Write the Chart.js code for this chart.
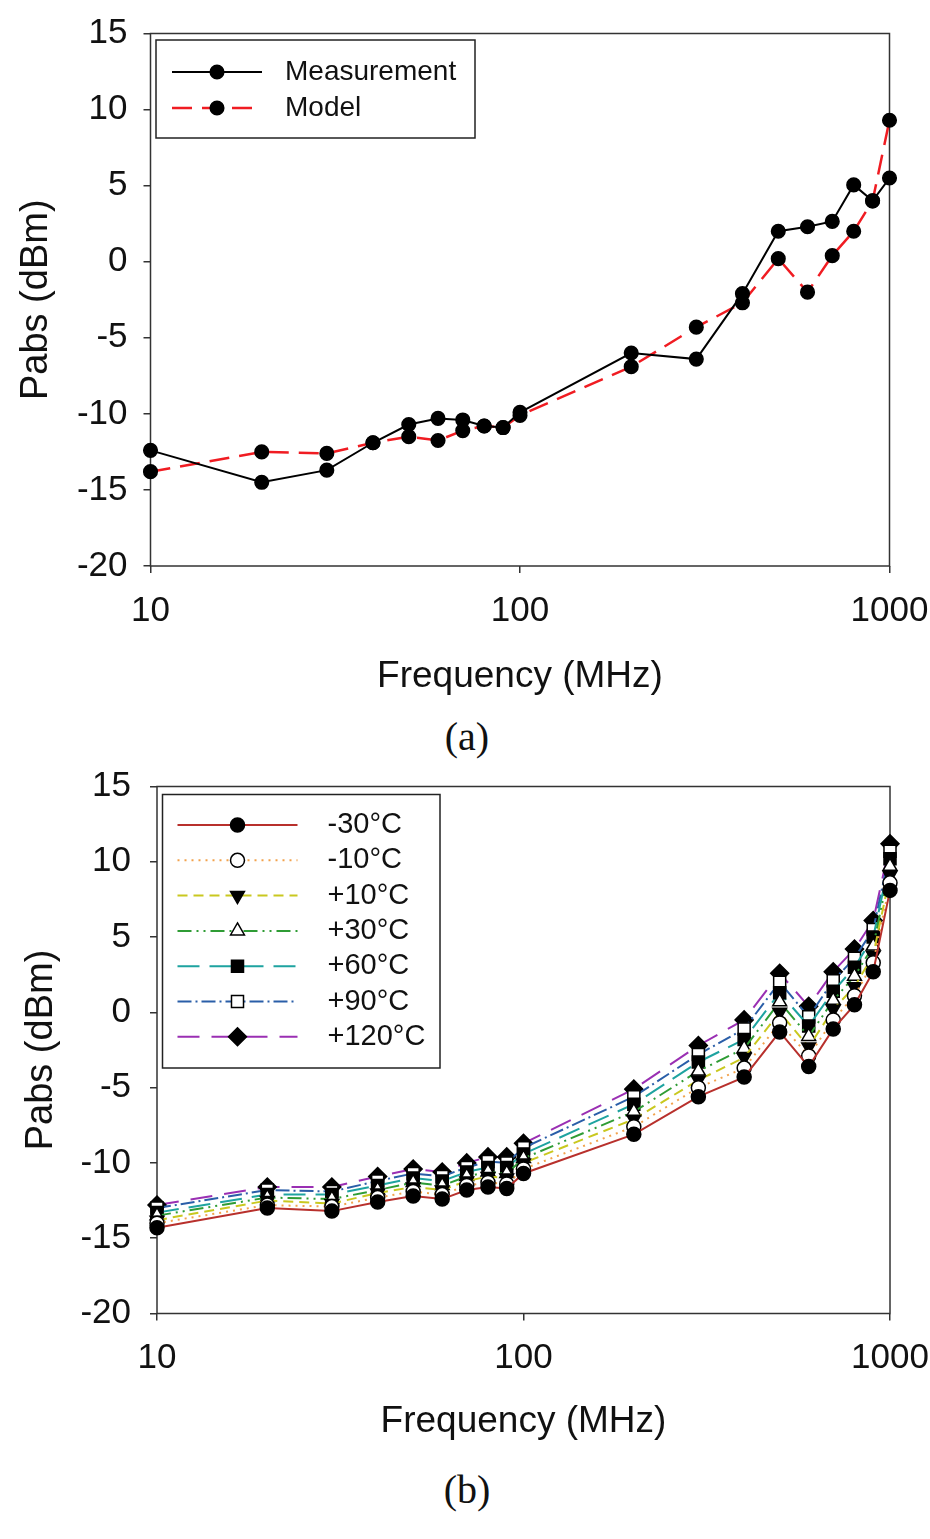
<!DOCTYPE html>
<html>
<head>
<meta charset="utf-8">
<script src="https://cdn.jsdelivr.net/npm/chart.js@4.4.1/dist/chart.umd.min.js"></script>
<style>
  body { margin: 0; background: #fff; width: 930px; height: 1539px; overflow: hidden; position: relative; }
  canvas { position: absolute; left: 0; }
  #chartA { top: 0; }
  #chartB { top: 740px; }
  .cap { position: absolute; left: 367px; width: 200px; text-align: center; font: 40px 'Liberation Serif', 'Times New Roman', serif; line-height: 40px; color: #111; }
</style>
</head>
<body>
<canvas id="chartA" width="930" height="700"></canvas>
<div class="cap" style="top:717px">(a)</div>
<canvas id="chartB" width="930" height="720"></canvas>
<div class="cap" style="top:1470px">(b)</div>
<script>
// frecuencias comunes (MHz)
const freqs = [10, 20, 30, 40, 50, 60, 70, 80, 90, 100, 200, 300, 400, 500, 600, 700, 800, 900, 1000];
const xTicks = [10, 100, 1000];

// figura (a)
const measA = [-12.4, -14.5, -13.7, -11.9, -10.7, -10.3, -10.4, -10.8, -10.9, -9.9, -6.0, -6.4, -2.1, 2.0, 2.3, 2.65, 5.05, 4.0, 5.5];
const modelA = [-13.8, -12.5, -12.6, -11.9, -11.5, -11.75, -11.1, -10.8, -10.9, -10.1, -6.9, -4.3, -2.7, 0.2, -2.0, 0.4, 2.0, 4.0, 9.3];

// figura (b), una lista por temperatura
const tempLabels = ['-30°C', '-10°C', '+10°C', '+30°C', '+60°C', '+90°C', '+120°C'];
const tM30 = [-14.3, -13.0, -13.2, -12.6, -12.2, -12.4, -11.8, -11.6, -11.7, -10.7, -8.1, -5.6, -4.3, -1.3, -3.6, -1.1, 0.5, 2.7, 8.1];
const tM10 = [-14.0, -12.8, -12.9, -12.3, -11.9, -12.1, -11.5, -11.3, -11.4, -10.4, -7.6, -5.0, -3.7, -0.7, -2.9, -0.5, 1.1, 3.3, 8.6];
const tP10 = [-13.8, -12.5, -12.7, -12.0, -11.6, -11.8, -11.2, -10.9, -11.0, -10.0, -7.1, -4.5, -3.0, 0.0, -2.3, 0.2, 1.7, 3.8, 9.1];
const tP30 = [-13.5, -12.3, -12.4, -11.8, -11.3, -11.5, -10.9, -10.6, -10.7, -9.7, -6.6, -3.9, -2.4, 0.7, -1.6, 0.8, 2.4, 4.4, 9.7];
const tP60 = [-13.3, -12.1, -12.1, -11.5, -11.0, -11.2, -10.6, -10.3, -10.3, -9.4, -6.1, -3.3, -1.8, 1.3, -0.9, 1.4, 3.0, 5.0, 10.2];
const tP90 = [-13.0, -11.8, -11.9, -11.2, -10.7, -10.9, -10.3, -9.9, -10.0, -9.0, -5.6, -2.8, -1.1, 2.0, -0.3, 2.1, 3.6, 5.5, 10.7];
const tP120 = [-12.8, -11.6, -11.6, -10.9, -10.4, -10.6, -10.0, -9.6, -9.6, -8.7, -5.1, -2.2, -0.5, 2.6, 0.4, 2.7, 4.2, 6.1, 11.2];

const SANS = "'Liberation Sans', Arial, sans-serif";
const INK = '#111';

function puntos(vals) {
    return freqs.map((f, i) => ({ x: f, y: vals[i] }));
}

// marco completo alrededor del area del grafico
const marco = {
    id: 'marco',
    beforeDatasetsDraw(chart) {
        const a = chart.chartArea;
        const ctx = chart.ctx;
        ctx.save();
        ctx.strokeStyle = '#333';
        ctx.lineWidth = 1.5;
        ctx.strokeRect(a.left, a.top, a.right - a.left, a.bottom - a.top);
        ctx.restore();
    }
};

// leyenda con caja, muestra de linea y marcador
const leyenda = {
    id: 'leyenda',
    afterDatasetsDraw(chart, args, o) {
        const ctx = chart.ctx;
        ctx.save();
        ctx.fillStyle = '#fff';
        ctx.fillRect(o.x, o.y, o.w, o.h);
        ctx.strokeStyle = '#222';
        ctx.lineWidth = 1.5;
        ctx.strokeRect(o.x, o.y, o.w, o.h);
        ctx.font = o.font;
        ctx.textBaseline = 'middle';
        chart.data.datasets.forEach((ds, i) => {
            const y = o.firstY + i * o.rowH;
            ctx.setLineDash(ds.borderDash || []);
            ctx.strokeStyle = ds.borderColor;
            ctx.lineWidth = ds.borderWidth;
            ctx.beginPath();
            ctx.moveTo(o.lineX0, y);
            ctx.lineTo(o.lineX1, y);
            ctx.stroke();
            ctx.setLineDash([]);
            ctx.fillStyle = ds.pointBackgroundColor;
            ctx.strokeStyle = ds.pointBorderColor;
            ctx.lineWidth = ds.pointBorderWidth;
            Chart.helpers.drawPoint(ctx, {
                pointStyle: ds.pointStyle,
                radius: ds.pointRadius,
                rotation: ds.pointRotation || 0,
                borderWidth: ds.pointBorderWidth
            }, o.markX, y);
            ctx.fillStyle = INK;
            ctx.fillText(ds.label, o.textX, y);
        });
        ctx.restore();
    }
};

function escalas(cfg) {
    return {
        x: {
            type: 'logarithmic',
            min: 10,
            max: 1000,
            afterBuildTicks: s => { s.ticks = xTicks.map(v => ({ value: v })); },
            afterFit: s => { s.height = cfg.xHeight; s.paddingLeft = 0; s.paddingRight = 0; },
            ticks: { callback: v => String(v), color: INK, padding: 17, maxRotation: 0, font: { family: SANS, size: 35 } },
            grid: { drawOnChartArea: false, drawTicks: true, tickLength: 7, color: '#333', lineWidth: 1.5 },
            border: { display: false },
            title: { display: true, text: 'Frequency (MHz)', color: INK, font: { family: SANS, size: 37 }, padding: { top: 0, bottom: cfg.xTitlePad } }
        },
        y: {
            min: -20,
            max: 15,
            afterFit: s => { s.width = cfg.yWidth; s.paddingTop = 0; s.paddingBottom = 0; },
            ticks: { stepSize: 5, color: INK, padding: cfg.yTickPad, font: { family: SANS, size: 35 } },
            grid: { drawOnChartArea: false, drawTicks: true, tickLength: 7, color: '#333', lineWidth: 1.5 },
            border: { display: false },
            title: { display: true, text: 'Pabs (dBm)', color: INK, font: { family: SANS, size: 38 }, padding: { top: cfg.yTitlePad, bottom: 0 } }
        }
    };
}

function serie(label, vals, color, dash, width, style, fill, radius, rot) {
    return {
        label: label,
        data: puntos(vals),
        borderColor: color,
        borderWidth: width,
        borderDash: dash,
        tension: 0,
        clip: false,
        pointStyle: style,
        pointRadius: radius,
        pointHoverRadius: radius,
        pointRotation: rot || 0,
        pointBackgroundColor: fill,
        pointBorderColor: '#000',
        pointBorderWidth: 1.5
    };
}

new Chart(document.getElementById('chartA'), {
    type: 'line',
    data: {
        datasets: [
            serie('Measurement', measA, '#000', [], 2, 'circle', '#000', 6.8),
            serie('Model', modelA, '#f01c22', [20, 10], 2.5, 'circle', '#000', 6.8)
        ]
    },
    options: {
        responsive: false,
        animation: false,
        devicePixelRatio: 1,
        layout: { padding: { top: 33.5, right: 40.5, left: 0, bottom: 0 } },
        scales: escalas({ xHeight: 134, xTitlePad: 1, yWidth: 150.5, yTickPad: 16, yTitlePad: 14 }),
        plugins: {
            legend: { display: false },
            tooltip: { enabled: false },
            leyenda: { x: 156, y: 40, w: 319, h: 98, firstY: 72, rowH: 36, lineX0: 172, lineX1: 262, markX: 217, textX: 285, font: '28px ' + SANS }
        }
    },
    plugins: [marco, leyenda]
});

new Chart(document.getElementById('chartB'), {
    type: 'line',
    data: {
        datasets: [
            serie(tempLabels[0], tM30, '#b8302c', [], 2, 'circle', '#000', 7),
            serie(tempLabels[1], tM10, '#f2a24c', [2, 5], 2, 'circle', '#fff', 7),
            serie(tempLabels[2], tP10, '#c9c81f', [10, 6], 2, 'triangle', '#000', 8, 180),
            serie(tempLabels[3], tP30, '#2f9c35', [14, 5, 2, 5, 2, 5], 2, 'triangle', '#fff', 8),
            serie(tempLabels[4], tP60, '#1ea3a0', [22, 10], 2, 'rect', '#000', 8.5),
            serie(tempLabels[5], tP90, '#2a5ea8', [14, 4, 2, 4], 2, 'rect', '#fff', 8.5),
            serie(tempLabels[6], tP120, '#9a2fb3', [22, 12], 2, 'rectRot', '#000', 9)
        ]
    },
    options: {
        responsive: false,
        animation: false,
        devicePixelRatio: 1,
        layout: { padding: { top: 46.5, right: 40, left: 0, bottom: 0 } },
        scales: escalas({ xHeight: 146.5, xTitlePad: 16, yWidth: 157, yTickPad: 19, yTitlePad: 19 }),
        plugins: {
            legend: { display: false },
            tooltip: { enabled: false },
            leyenda: { x: 162.5, y: 54.5, w: 277.5, h: 273.5, firstY: 85, rowH: 35.3, lineX0: 177.5, lineX1: 297.5, markX: 237.5, textX: 327.5, font: '29px ' + SANS }
        }
    },
    plugins: [marco, leyenda]
});
</script>
</body>
</html>
